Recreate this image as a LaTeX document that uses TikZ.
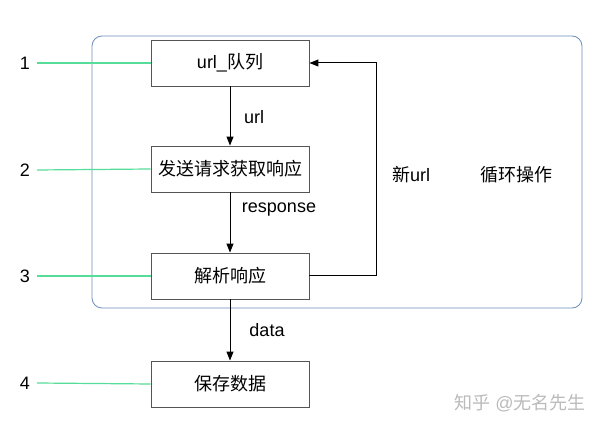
\documentclass[tikz,border=0pt]{standalone}
\usepackage{fontspec}
\setmainfont{Liberation Sans}
\newfontfamily\cjk{Noto Sans CJK SC}
\usetikzlibrary{arrows.meta}
\definecolor{greenline}{HTML}{55DD99}
\definecolor{bluebox}{HTML}{6C8EBF}
\definecolor{boxline}{HTML}{555555}
\definecolor{wmark}{HTML}{BBBBBB}
\begin{document}
\begin{tikzpicture}[x=1pt,y=-1pt,
  every node/.style={font=\fontsize{18}{21}\selectfont, inner sep=0pt},
  stepbox/.style={draw=boxline, line width=0.9pt, minimum width=158pt, minimum height=46pt, fill=white},
  flow/.style={draw=black, line width=1pt, -{Triangle[length=9pt,width=7pt]}},
  guide/.style={draw=greenline, line width=1.2pt},
  lbl/.style={anchor=center}]
\useasboundingbox (0,0) rectangle (600,427);
\fill[white] (0,0) rectangle (600,427);
\draw[bluebox, line width=0.8pt, rounded corners=10pt] (92,36) rectangle (582,308);

\node[lbl] (n1) at (25,63) {1};
\node[lbl] (n2) at (25,170) {2};
\node[lbl] (n3) at (25,276) {3};
\node[lbl] (n4) at (25,383) {4};
\coordinate (g1) at (37,63);
\coordinate (g2) at (37,170);
\coordinate (g3) at (37,276);
\coordinate (g4) at (37,383);

\node[stepbox] (b1) at (230,63) {url\_{\cjk 队列}};
\node[stepbox] (b2) at (230,169) {\cjk 发送请求获取响应};
\node[stepbox] (b3) at (230,276) {\cjk 解析响应};
\node[stepbox] (b4) at (230,384) {\cjk 保存数据};

\draw[guide] (g1) -- (b1.west);
\draw[guide] (g2) -- (b2.west);
\draw[guide] (g3) -- (b3.west);
\draw[guide] (g4) -- (b4.west);

\draw[flow] (b1) -- (b2);
\draw[flow] (b2) -- (b3);
\draw[flow] (b3) -- (b4);
\coordinate (c1) at (376,276);
\coordinate (c2) at (376,63);
\draw[flow] (b3.east) -- (c1) -- (c2) -- (b1.east);

\node[lbl] (l1) at (254,117) {url};
\node[lbl] (l2) at (279,210) {response};
\node[lbl] (l3) at (267,330) {data};
\node[lbl] (l4) at (411,175) {{\cjk 新}url};
\node[lbl] (l5) at (516,175) {\cjk 循环操作};
\node[lbl, text=wmark] (wm) at (520,403) {{\cjk 知乎} @{\cjk 无名先生}};
\end{tikzpicture}
\end{document}
